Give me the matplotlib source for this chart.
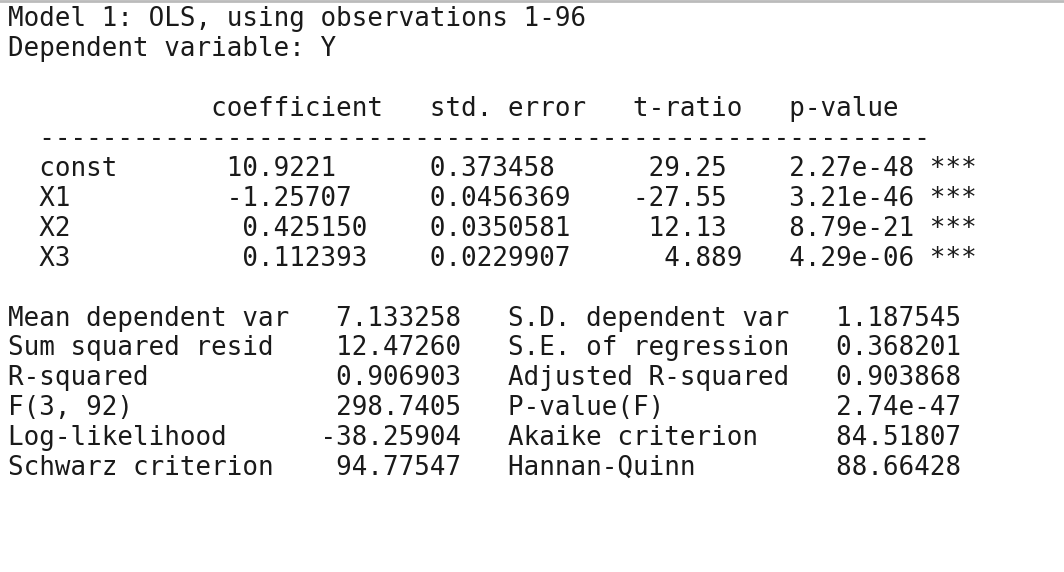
import matplotlib
matplotlib.use("Agg")
import matplotlib.pyplot as plt

title_lines = ["Model 1: OLS, using observations 1-96", "Dependent variable: Y"]
headers = ["coefficient", "std. error", "t-ratio", "p-value"]
variables = ["const", "X1", "X2", "X3"]
coefs = ["10.9221", "-1.25707", "0.425150", "0.112393"]
coef_cols = [14, 14, 15, 15]
std_errs = ["0.373458", "0.0456369", "0.0350581", "0.0229907"]
t_ratios = ["29.25", "-27.55", "12.13", "4.889"]
t_cols = [41, 40, 41, 42]
p_values = ["2.27e-48", "3.21e-46", "8.79e-21", "4.29e-06"]
stars = ["***", "***", "***", "***"]
stat_names_l = ["Mean dependent var", "Sum squared resid", "R-squared", "F(3, 92)", "Log-likelihood", "Schwarz criterion"]
stat_vals_l = ["7.133258", "12.47260", "0.906903", "298.7405", "-38.25904", "94.77547"]
stat_names_r = ["S.D. dependent var", "S.E. of regression", "Adjusted R-squared", "P-value(F)", "Akaike criterion", "Hannan-Quinn"]
stat_vals_r = ["1.187545", "0.368201", "0.903868", "2.74e-47", "84.51807", "88.66428"]

def put(buf, col, s):
    if len(buf) < col:
        buf += " " * (col - len(buf))
    return buf[:col] + s + buf[col + len(s):]

lines = list(title_lines) + [""]
h = ""
for s, c in zip(headers, [13, 27, 40, 50]):
    h = put(h, c, s)
lines.append(h)
lines.append("  " + "-" * 57)
for i in range(len(variables)):
    r = put("", 2, variables[i])
    r = put(r, coef_cols[i], coefs[i])
    r = put(r, 27, std_errs[i])
    r = put(r, t_cols[i], t_ratios[i])
    r = put(r, 50, p_values[i])
    r = put(r, 59, stars[i])
    lines.append(r)
lines.append("")
for i in range(len(stat_names_l)):
    v = stat_vals_l[i]
    r = put("", 0, stat_names_l[i])
    r = put(r, 29 - len(v), v)
    r = put(r, 32, stat_names_r[i])
    r = put(r, 61 - len(stat_vals_r[i]), stat_vals_r[i])
    lines.append(r)

W, H = 1064, 572
fig = plt.figure(figsize=(W / 100, H / 100), dpi=100)
fig.patch.set_facecolor("white")
ax = fig.add_axes([0, 0, 1, 1])
ax.set_xlim(0, W)
ax.set_ylim(H, 0)
ax.axis("off")
ax.plot([0, W], [1, 1], color="#bbbbbb", lw=2)
for i, ln in enumerate(lines):
    ax.text(8, 19 + 29.95 * i, ln, family="DejaVu Sans Mono", fontsize=18.6,
            color="#1a1a1a", va="center", ha="left")
fig.savefig("out.png", dpi=100)
